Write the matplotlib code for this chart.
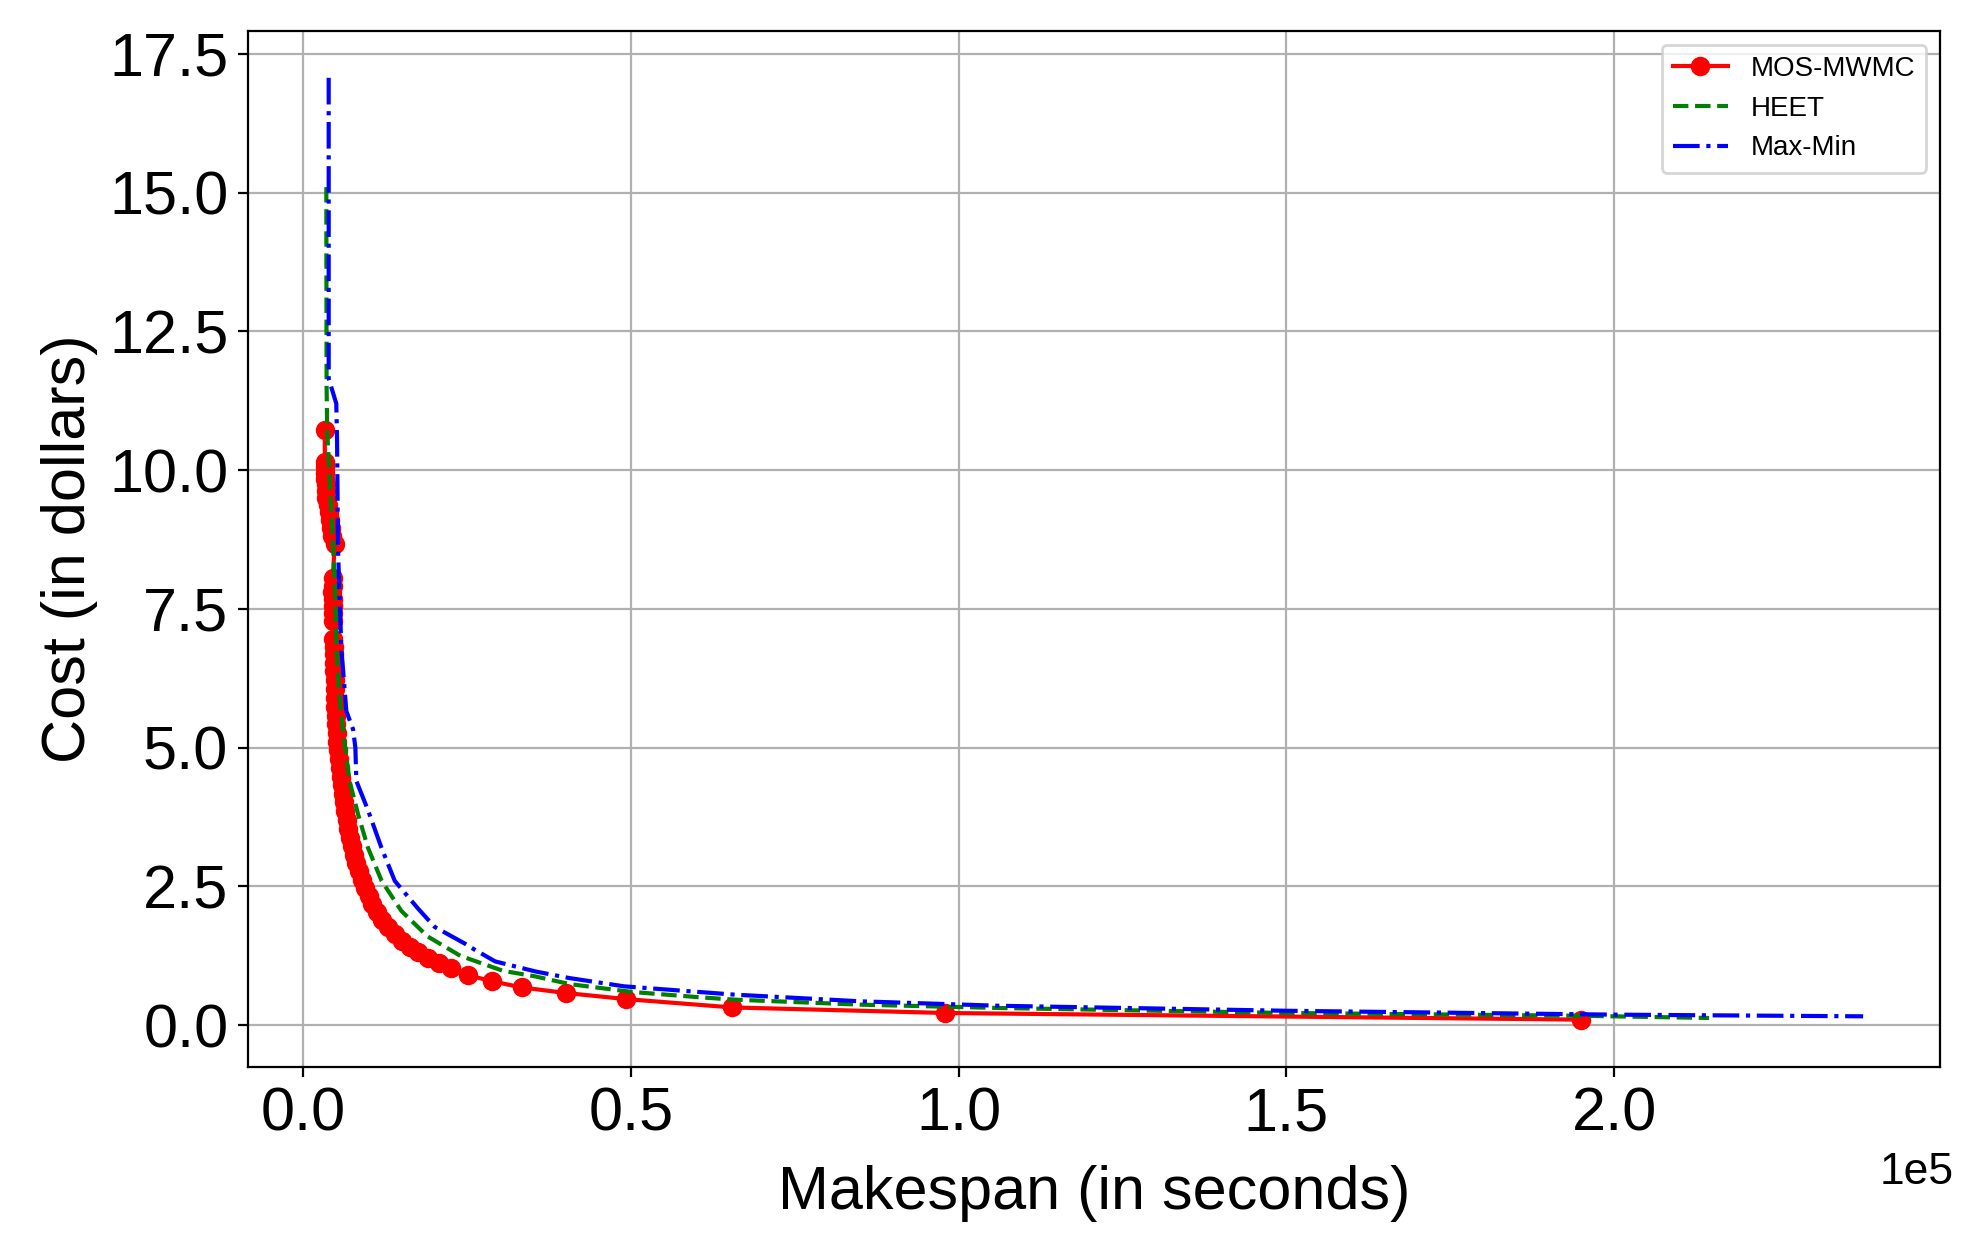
import matplotlib

matplotlib.use("Agg")
import matplotlib.pyplot as plt

plt.rcParams["font.family"] = ["Liberation Sans", "DejaVu Sans"]

# MOS-MWMC (makespan in s, cost in $)
mos_x = [3300, 3350, 3380, 3400, 3420, 3450, 3480, 3550, 3800, 4000,
         4150, 4300, 4450, 4830, 4550, 4520, 4500, 4520, 4550, 4580,
         4600, 4650, 4700, 4720, 4750, 4780, 4820, 4860, 4900, 4950,
         5000, 5080, 5150, 5250, 5350, 5450, 5600, 5750, 5900, 6050,
         6250, 6450, 6650, 6900, 7150, 7450, 7750, 8100, 8500, 8950,
         9450, 10000, 10600, 11300, 12100, 13000, 14000, 15100, 16300, 17600,
         19000, 20700, 22600, 25200, 28900, 33400, 40100, 49300, 65500, 98000,
         195000]
mos_y = [10.72, 10.15, 10.05, 9.95, 9.85, 9.75, 9.62, 9.50, 9.38, 9.25,
         9.10, 8.95, 8.82, 8.67, 8.05, 7.92, 7.80, 7.68, 7.55, 7.42,
         7.28, 6.95, 6.82, 6.68, 6.52, 6.38, 6.22, 6.06, 5.90, 5.74,
         5.58, 5.42, 5.26, 5.10, 4.95, 4.80, 4.64, 4.48, 4.32, 4.17,
         4.02, 3.86, 3.70, 3.54, 3.38, 3.22, 3.07, 2.92, 2.77, 2.62,
         2.47, 2.32, 2.18, 2.04, 1.90, 1.77, 1.64, 1.52, 1.41, 1.31,
         1.21, 1.12, 1.03, 0.90, 0.79, 0.68, 0.58, 0.47, 0.32, 0.22,
         0.10]

# HEET
heet_x = [3560, 3580, 3600, 3700, 4000, 4300, 4600, 4900, 5100, 5500,
          6100, 7100, 8400, 9900, 12000, 15000, 19000, 24000, 30500, 35400,
          40700, 50100, 60850, 65900, 85100, 106200, 150000, 195000, 214500]
heet_y = [15.1, 13.0, 11.5, 10.7, 10.0, 9.3, 8.6, 7.8, 6.8, 6.0,
          5.3, 4.4, 3.8, 3.2, 2.6, 2.06, 1.6, 1.25, 0.98, 0.88,
          0.74, 0.60, 0.50, 0.46, 0.37, 0.31, 0.22, 0.17, 0.13]

# Max-Min
maxmin_x = [3920, 3920, 3920, 5080, 5200, 5340, 5850, 6610, 7640, 7990,
            8140, 9930, 11960, 14000, 17560, 20100, 24690, 26200, 29300, 35400,
            40600, 49000, 65900, 85100, 106200, 150000, 200000, 238000]
maxmin_y = [17.07, 14.0, 11.65, 11.2, 10.5, 8.58, 6.79, 5.66, 5.33, 5.0,
            4.4, 3.87, 3.2, 2.6, 2.1, 1.77, 1.47, 1.36, 1.15, 0.97,
            0.85, 0.70, 0.55, 0.43, 0.35, 0.26, 0.19, 0.16]


def main() -> None:
    fig = plt.figure(figsize=(9.845, 6.215), dpi=200)
    ax = fig.add_axes([0.1258, 0.1418, 0.8595, 0.8335])

    ax.plot(mos_x, mos_y, "r-o", label="MOS-MWMC")
    ax.plot(heet_x, heet_y, "g--", label="HEET")
    ax.plot(maxmin_x, maxmin_y, "b-.", label="Max-Min")

    ax.set_xlabel("Makespan (in seconds)", fontsize=22, labelpad=8)
    ax.set_ylabel("Cost (in dollars)", fontsize=22)
    ax.tick_params(labelsize=22)
    ax.ticklabel_format(axis="x", style="sci", scilimits=(0, 0))
    ax.xaxis.get_offset_text().set_fontsize(16)
    ax.xaxis.get_offset_text().set_x(1.008)
    ax.grid(True)
    ax.legend(loc="upper right", fontsize=10)

    fig.savefig("out.png", dpi=200)


if __name__ == "__main__":
    main()
